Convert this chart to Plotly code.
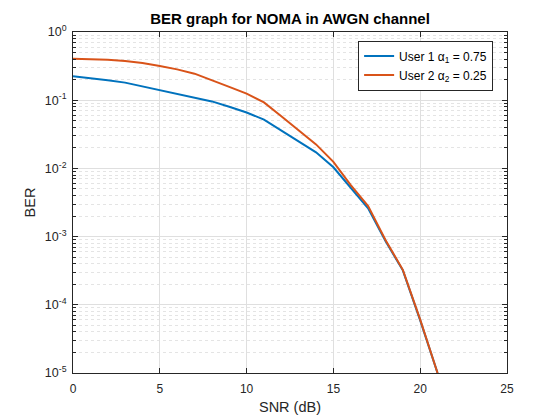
import plotly.graph_objects as go

# SNR in dB and simulated BER per user
snr_db = list(range(0, 22))
ber_user1 = [0.224, 0.211, 0.196, 0.181, 0.160, 0.140, 0.124, 0.110, 0.096, 0.080, 0.066,
             0.052, 0.036, 0.0245, 0.0172, 0.0104, 0.0051, 0.0026, 8.6e-4, 3.2e-4, 5.9e-5, 1e-5]
ber_user2 = [0.405, 0.400, 0.392, 0.375, 0.350, 0.318, 0.283, 0.245, 0.198, 0.157, 0.125,
             0.093, 0.058, 0.036, 0.0225, 0.0125, 0.0057, 0.0028, 8.9e-4, 3.26e-4, 6.05e-5, 1e-5]

names = ["User 1 α<sub>1</sub> = 0.75", "User 2 α<sub>2</sub> = 0.25"]
x_ticks = [0, 5, 10, 15, 20, 25]
y_ticks = [1e-5, 1e-4, 1e-3, 1e-2, 1e-1, 1]
y_labels = ["10<sup>-5</sup>", "10<sup>-4</sup>", "10<sup>-3</sup>",
            "10<sup>-2</sup>", "10<sup>-1</sup>", "10<sup>0</sup>"]

ink = "#262626"
grid = "#dfdfdf"
font = "Liberation Sans, Arial, Helvetica, sans-serif"
off = 8  # the page body margin shifts the figure by this much

fig = go.Figure()
fig.add_trace(go.Scatter(x=snr_db, y=ber_user1, mode="lines", name=names[0],
                         line=dict(color="#0072BD", width=2)))
fig.add_trace(go.Scatter(x=snr_db, y=ber_user2, mode="lines", name=names[1],
                         line=dict(color="#D95319", width=2)))

fig.update_layout(
    width=560, height=420, autosize=False,
    margin=dict(l=73 - off, r=53 + off, t=32 - off, b=47 + off),
    paper_bgcolor="white", plot_bgcolor="white",
    font=dict(family=font, size=12, color=ink),
    title=dict(text="<b>BER graph for NOMA in AWGN channel</b>",
               x=(73 - off + 434 / 2) / 560, xanchor="center",
               y=1 - (19 - off) / 420, yanchor="middle", yref="container",
               font=dict(size=15, color="black")),
    legend=dict(x=0.968, y=0.975, xanchor="right", yanchor="top",
                bgcolor="white", bordercolor=ink, borderwidth=1,
                font=dict(size=12, color="black"), tracegroupgap=0),
    showlegend=True,
)

fig.update_xaxes(
    range=[0, 25], tickvals=x_ticks, ticks="inside", ticklen=5, tickcolor=ink,
    ticklabelstandoff=5,
    showline=True, linecolor=ink, linewidth=1, mirror="ticks",
    showgrid=True, gridcolor=grid, gridwidth=1, zeroline=False,
    title=dict(text="SNR (dB)", font=dict(size=14.5), standoff=6),
)
fig.update_yaxes(
    type="log", range=[-5, 0], tickvals=y_ticks, ticktext=y_labels,
    ticks="inside", ticklen=5, tickcolor=ink, ticklabelstandoff=3,
    tickfont=dict(size=12.5),
    showline=True, linecolor=ink, linewidth=1, mirror="ticks",
    showgrid=True, gridcolor=grid, gridwidth=1, zeroline=False,
    minor=dict(tickmode="linear", dtick="D1", ticks="inside", ticklen=3, tickcolor=ink,
               showgrid=True, gridcolor="#e4e4e4", griddash="dot", gridwidth=1),
    title=dict(text="BER", font=dict(size=14.5), standoff=5),
)

fig.write_html("out.html")
